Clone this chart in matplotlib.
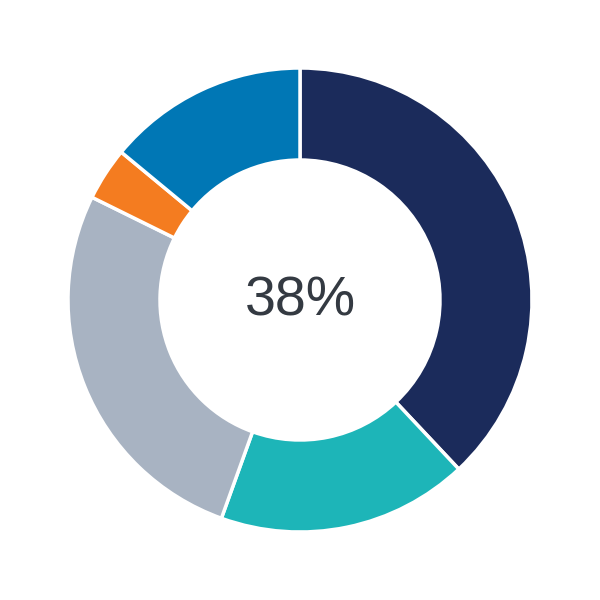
import numpy as np
import matplotlib.pyplot as plt

# segment shares in percent, drawn clockwise from 12 o'clock
labels = ["Navy", "Teal", "Gray", "Orange", "Blue"]
shares = [38, 17.5, 26.8, 3.7, 14]
colors = ["#1b2b5b", "#1db5b8", "#a8b3c2", "#f47c20", "#0077b5"]
center_text = "38%"

fig = plt.figure(figsize=(6, 6), dpi=100)
ax = fig.add_axes([0, 0, 1, 1])

outer_r = 232 / 300
ring_w = (232 - 140) / 300

ax.pie(
    shares,
    colors=colors,
    startangle=90,
    counterclock=False,
    radius=outer_r,
    wedgeprops=dict(width=ring_w, edgecolor="white", linewidth=2.5),
)
ax.text(0, -0.005, center_text, ha="center", va="center", fontsize=40,
        color="#343a42", family="Liberation Sans")

ax.set_xlim(-1, 1)
ax.set_ylim(-1, 1)
ax.set_aspect("equal")
ax.axis("off")

plt.savefig("out.png", dpi=100, facecolor="white")
